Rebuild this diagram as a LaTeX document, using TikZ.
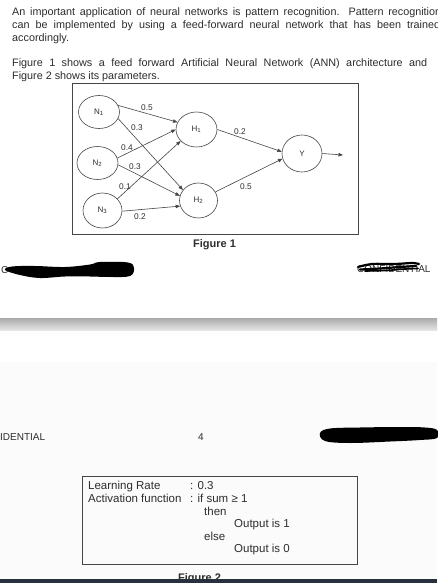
\documentclass[tikz,border=0pt]{standalone}
\usepackage{fontspec}
\setmainfont{Liberation Sans}
\usetikzlibrary{arrows.meta,shapes.geometric}
\definecolor{txt}{RGB}{45,45,45}
\definecolor{edgec}{RGB}{70,70,70}
\definecolor{darkbar}{RGB}{39,49,59}
\definecolor{offwhite}{RGB}{251,251,251}
\begin{document}
\begin{tikzpicture}[x=1pt,y=-1pt,
  neuron/.style={ellipse,draw=edgec,line width=0.6pt,inner sep=0pt,minimum width=41pt,minimum height=33pt,font=\fontsize{8}{9}\selectfont,text=txt},
  conn/.style={draw=edgec,line width=0.6pt,-{Triangle[length=4.5pt,width=3.5pt]}},
  wlabel/.style={font=\fontsize{8.3}{9}\selectfont,text=txt,inner sep=0pt},
  para/.style={anchor=base west,inner sep=0pt,font=\fontsize{10.8}{13}\selectfont,text=txt},
  small/.style={anchor=base west,inner sep=0pt,font=\fontsize{10}{12}\selectfont,text=txt},
  tbl/.style={anchor=base west,inner sep=0pt,font=\fontsize{11.5}{13}\selectfont,text=txt},
  capt/.style={anchor=base west,inner sep=0pt,font=\fontsize{11}{13}\selectfont\bfseries,text=txt},
  framebox/.style={draw=edgec,line width=0.7pt,inner sep=0pt},
  scrib/.style={draw=black,line width=2.2pt,line cap=round,line join=round}
]
\useasboundingbox (0,0) rectangle (437,583);
\fill[white] (0,0) rectangle (437,583);
\fill[offwhite] (0,362) rectangle (437,579);

% paragraph
\node[para] (l1) at (12,15.5) {\makebox[429pt][s]{An important application of neural networks is pattern recognition. Pattern recognition}};
\node[para] (l2) at (12,28.5) {\makebox[428pt][s]{can be implemented by using a feed-forward neural network that has been trained}};
\node[para] (l3) at (12,41.5) {accordingly.};
\node[para] (l4) at (12,66.5) {\makebox[415pt][s]{Figure 1 shows a feed forward Artificial Neural Network (ANN) architecture and}};
\node[para] (l5) at (12,79.5) {Figure 2 shows its parameters.};

% Figure 1
\node[framebox,minimum width=286pt,minimum height=151pt] (fig1) at (215,158.5) {};
\node[neuron] (N1) at (99,112) {N\textsubscript{1}};
\node[neuron] (N2) at (97.5,163) {N\textsubscript{2}};
\node[neuron,minimum width=39pt,minimum height=35pt] (N3) at (102.5,210.5) {N\textsubscript{3}};
\node[neuron,minimum height=35pt] (H1) at (196.5,129.5) {H\textsubscript{1}};
\node[neuron,minimum width=38pt,minimum height=35pt] (H2) at (198.5,200.5) {H\textsubscript{2}};
\node[neuron,minimum width=40pt,minimum height=37pt] (Y) at (302,153.5) {Y};
\coordinate (out) at (343,155);

\draw[conn] (N1.19) -- (H1.159);
\draw[conn] (N1.-19) -- (H2.146);
\draw[conn] (N2.14) -- (H1.180);
\draw[conn] (N2.-5) -- (H2.166);
\draw[conn] (N3.38) -- (H1.-144);
\draw[conn] (N3.-2) -- (H2.-163);
\draw[conn] (H1.0) -- (Y.175);
\draw[conn] (H2.27) -- (Y.-165);
\draw[conn] (Y.east) -- (out);

\node[wlabel] (w1) at (147,108) {0.5};
\node[wlabel] (w2) at (137,128) {0.3};
\node[wlabel] (w3) at (127,148) {0.4};
\node[wlabel] (w4) at (135,167) {0.3};
\node[wlabel] (w5) at (125,187) {0.1};
\node[wlabel] (w6) at (140,217) {0.2};
\node[wlabel] (w7) at (240,132) {0.2};
\node[wlabel] (w8) at (246,187) {0.5};

\node[capt] (cap1) at (193,247) {Figure 1};

% page 1 footer
\node[small] (c1) at (1,273) {C};
\fill[black] plot[smooth cycle,tension=0.6] coordinates {(5,270) (12,266.5) (35,266) (65,267) (90,264.5) (100,262) (128,262.5) (134,268) (130,276) (110,277) (90,276.5) (65,276.5) (40,278) (20,275)};
\node[small] (conf1) at (357,272) {CONFIDENTIAL};
\draw[scrib] plot[smooth,tension=0.5] coordinates {(358,267) (372,264) (395,264) (412,263) (419,264)};
\draw[scrib] plot[smooth,tension=0.5] coordinates {(360,269.5) (380,268.5) (400,267) (416,266)};
\draw[scrib,line width=1.6pt] plot[smooth,tension=0.5] coordinates {(365,271) (385,270.5) (405,269) (418,268.5)};

% page break band
\shade[top color={rgb,255:red,170;green,170;blue,170},bottom color={rgb,255:red,228;green,228;blue,228}] (0,318) rectangle (437,330);

% page 2 header
\node[small] (conf2) at (0,440) {IDENTIAL};
\node[small] (pg) at (198,440) {4};
\fill[black] plot[smooth cycle,tension=0.6] coordinates {(320,433) (330,428.5) (360,427.5) (400,427) (425,427.5) (437,430) (437,438) (420,440) (390,441.5) (350,443) (325,441)};

% Figure 2
\node[framebox,minimum width=275pt,minimum height=88pt] (fig2) at (219.5,520) {};
\node[tbl] (lr) at (88,489) {Learning Rate};
\node[tbl] (af) at (88,502) {Activation function};
\node[tbl] (lrv) at (190,489) {: 0.3};
\node[tbl] (afv) at (190,502) {: if sum ≥ 1};
\node[tbl] (thn) at (204,515) {then};
\node[tbl] (o1) at (234,527.5) {Output is 1};
\node[tbl] (els) at (204,540) {else};
\node[tbl] (o0) at (234,552.5) {Output is 0};
\node[capt] (cap2) at (178,581) {Figure 2};
\fill[darkbar] (0,579) rectangle (437,583);
\end{tikzpicture}
\end{document}
